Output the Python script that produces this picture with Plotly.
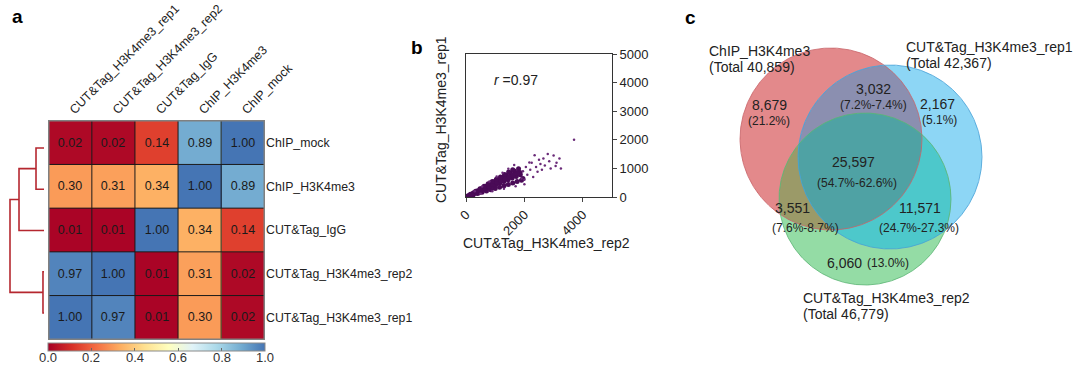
import numpy as np
import plotly.graph_objects as go

W, H = 1080, 365

# ---------------- Panel a: correlation heatmap ----------------
hm_cols = ["CUT&Tag_H3K4me3_rep1", "CUT&Tag_H3K4me3_rep2", "CUT&Tag_IgG", "ChIP_H3K4me3", "ChIP_mock"]
hm_rows = ["ChIP_mock", "ChIP_H3K4me3", "CUT&Tag_IgG", "CUT&Tag_H3K4me3_rep2", "CUT&Tag_H3K4me3_rep1"]
corr_chip_mock = [0.02, 0.02, 0.14, 0.89, 1.00]
corr_chip_h3k4me3 = [0.30, 0.31, 0.34, 1.00, 0.89]
corr_cuttag_igg = [0.01, 0.01, 1.00, 0.34, 0.14]
corr_cuttag_rep2 = [0.97, 1.00, 0.01, 0.31, 0.02]
corr_cuttag_rep1 = [1.00, 0.97, 0.01, 0.30, 0.02]
cbar_ticks = [0.0, 0.2, 0.4, 0.6, 0.8, 1.0]

# dendrogram (rows): merges of leaf/node ids (leaves 0..4 in hm_rows order, new nodes 5..8)
merge_a = [0, 5, 3, 6]
merge_b = [1, 2, 4, 7]
merge_h = [0.235, 0.735, 0.03, 1.0]

# ---------------- Panel b: scatter ----------------
core_rep2 = [100, 250, 400, 550, 700, 850, 1000, 1150, 1300, 1450, 1600, 1750, 1900,
             50, 180, 320, 460, 600, 740, 880, 1020, 1160, 1300, 1440, 1580, 1720, 1860,
             120, 260, 400, 540, 680, 820, 960, 1100, 1240, 1380, 1520, 1660, 1800,
             30, 200, 350, 650, 950, 1250, 1550, 1850,
             80, 220, 360, 500, 640, 780, 920, 1060, 1200, 1340, 1480, 1620, 1760, 1950,
             150, 330, 480, 620, 760, 900, 1040, 1180, 1320, 1460, 1600]
core_rep1 = [30, 75, 120, 165, 210, 255, 300, 345, 390, 440, 490, 540, 590,
             20, 75, 135, 195, 250, 310, 370, 430, 490, 545, 605, 665, 720, 780,
             65, 145, 220, 300, 375, 450, 530, 605, 680, 760, 835, 910, 990,
             10, 60, 170, 330, 450, 580, 720, 860,
             45, 110, 180, 245, 310, 375, 440, 505, 570, 640, 705, 770, 840, 650,
             100, 200, 290, 380, 460, 540, 620, 700, 790, 870, 950]
sparse_rep2 = [300, 550, 800, 1050, 1250, 1450, 1650, 500, 900, 1300, 1700, 2000,
               1950, 2050, 2100, 2200, 2250, 2300, 2400, 2450, 2500, 2550, 2600, 2650,
               2700, 2800, 2850, 2900, 3000, 3100, 3200, 3250, 3700, 2350, 1900, 2000, 2170, 3070]
sparse_rep1 = [200, 370, 545, 715, 850, 990, 1120, 110, 200, 290, 380, 450,
               900, 1050, 780, 950, 1200, 700, 1050, 880, 1300, 1150, 950, 1350,
               1100, 1500, 1250, 1000, 1450, 1200, 1350, 1000, 2000, 1460, 650, 600, 1210, 1080]
scatter_r = 0.97
x_ticks_b = [0, 2000, 4000]
y_ticks_b = [0, 1000, 2000, 3000, 4000, 5000]

# ---------------- Panel c: Venn ----------------
venn_names = ["ChIP_H3K4me3", "CUT&Tag_H3K4me3_rep1", "CUT&Tag_H3K4me3_rep2"]
venn_totals = ["40,859", "42,367", "46,779"]
region_counts = ["8,679", "2,167", "6,060", "3,032", "3,551", "11,571", "25,597"]
region_pcts = ["(21.2%)", "(5.1%)", "(13.0%)", "(7.2%-7.4%)", "(7.6%-8.7%)", "(24.7%-27.3%)", "(54.7%-62.6%)"]


def dx(px):
    return px / W


def dy(py):
    return 1 - py / H


FONT = "Arial, Liberation Sans, sans-serif"
fig = go.Figure()

# RdYlBu-like scale
cscale = [[i / 9, c] for i, c in enumerate(
    ["#a50026", "#d73027", "#f46d43", "#fdae61", "#fee090", "#ffffbf",
     "#e0f3f8", "#abd9e9", "#74add1", "#4575b4"])]

CB_L, CB_LEN = 48, 217
z = [corr_chip_mock, corr_chip_h3k4me3, corr_cuttag_igg, corr_cuttag_rep2, corr_cuttag_rep1]
fig.add_trace(go.Heatmap(
    z=z, x=hm_cols, y=hm_rows, colorscale=cscale, zmin=0, zmax=1,
    texttemplate="%{z:.2f}", textfont=dict(size=12.5, color="#1a1a1a", family=FONT),
    hoverinfo="skip",
    colorbar=dict(orientation="h", x=dx(CB_L), xanchor="left", y=dy(343), yanchor="top",
                  len=CB_LEN, lenmode="pixels", thickness=8, xpad=0, ypad=0,
                  outlinewidth=1, outlinecolor="#8a8a8a",
                  tickvals=cbar_ticks, showticklabels=False,
                  ticks="inside", ticklen=3, tickcolor="#666"),
    xaxis="x", yaxis="y"))

shapes = []
for i in range(1, len(hm_cols)):
    shapes.append(dict(type="line", xref="x", yref="y", x0=i - 0.5, x1=i - 0.5, y0=-0.5, y1=4.5,
                       line=dict(color="#1a1a1a", width=1)))
for i in range(1, len(hm_rows)):
    shapes.append(dict(type="line", xref="x", yref="y", y0=i - 0.5, y1=i - 0.5, x0=-0.5, x1=4.5,
                       line=dict(color="#1a1a1a", width=1)))
shapes.append(dict(type="rect", xref="x", yref="y", x0=-0.5, x1=4.5, y0=-0.5, y1=4.5,
                   line=dict(color="#808080", width=1.5)))

# dendrogram
pos = {i: float(i) for i in range(len(hm_rows))}
hgt = {i: 0.0 for i in range(len(hm_rows))}
dxs, dys = [], []
for k, (a, b, h) in enumerate(zip(merge_a, merge_b, merge_h)):
    nid = len(hm_rows) + k
    dxs += [hgt[a], h, h, hgt[b], None]
    dys += [pos[a], pos[a], pos[b], pos[b], None]
    pos[nid] = (pos[a] + pos[b]) / 2
    hgt[nid] = h
fig.add_trace(go.Scatter(x=dxs, y=dys, mode="lines", line=dict(color="#b5272f", width=1.6),
                         hoverinfo="skip", xaxis="x4", yaxis="y4"))

# scatter
fig.add_trace(go.Scatter(x=core_rep2, y=core_rep1, mode="markers",
                         marker=dict(size=5, color="#4a0b57", line=dict(width=0)),
                         hoverinfo="skip", xaxis="x2", yaxis="y2"))
fig.add_trace(go.Scatter(x=sparse_rep2, y=sparse_rep1, mode="markers",
                         marker=dict(size=2.5, color="#6a2a78", line=dict(width=0)),
                         hoverinfo="skip", xaxis="x2", yaxis="y2"))

# Venn (pixel coordinate system)
circles = [(831, 139, 91), (890, 157, 92), (865, 199, 86)]


def region_polygon(idx):
    t = np.linspace(0, 2 * np.pi, 1440, endpoint=False)
    pts = []
    for i in idx:
        cx, cy, r = circles[i]
        px, py = cx + r * np.cos(t), cy + r * np.sin(t)
        mask = np.ones_like(t, dtype=bool)
        for j in idx:
            if j != i:
                cxj, cyj, rj = circles[j]
                mask &= (px - cxj) ** 2 + (py - cyj) ** 2 <= rj ** 2
        pts.append(np.c_[px[mask], py[mask]])
    P = np.vstack(pts)
    c = P.mean(axis=0)
    P = P[np.argsort(np.arctan2(P[:, 1] - c[1], P[:, 0] - c[0]))]
    P = np.vstack([P, P[:1]])
    return P


region_defs = [((0,), "#e3898b"), ((1,), "#8dd6f5"), ((2,), "#94dca5"),
               ((0, 1), "#8b8fb0"), ((0, 2), "#9b9a68"), ((1, 2), "#4dc8cb"),
               ((0, 1, 2), "#4fa2a4")]
for idx, col in region_defs:
    P = region_polygon(idx)
    fig.add_trace(go.Scatter(x=P[:, 0], y=P[:, 1], mode="lines", fill="toself", fillcolor=col,
                             line=dict(width=0, color=col), hoverinfo="skip",
                             xaxis="x3", yaxis="y3"))
for (cx, cy, r), col in zip(circles, ["rgba(200,100,105,0.8)", "rgba(70,160,215,0.8)",
                                      "rgba(90,180,115,0.8)"]):
    t = np.linspace(0, 2 * np.pi, 721)
    fig.add_trace(go.Scatter(x=cx + r * np.cos(t), y=cy + r * np.sin(t), mode="lines",
                             line=dict(width=1, color=col), hoverinfo="skip",
                             xaxis="x3", yaxis="y3"))

ann = []


def A(text, x, y, size, xref="paper", yref="paper", xanchor="center", yanchor="middle", **kw):
    ann.append(dict(text=text, x=x, y=y, xref=xref, yref=yref, xanchor=xanchor, yanchor=yanchor,
                    showarrow=False, font=dict(size=size, family=FONT, color=kw.pop("color", "#222")),
                    **kw))


# colorbar tick labels
for v in cbar_ticks:
    A(f"{v:.1f}", dx(CB_L + v * CB_LEN), dy(357.5), 13, color="#333")

# panel letters
A("<b>a</b>", dx(17), dy(16), 19, color="#000")
A("<b>b</b>", dx(417), dy(47), 19, color="#000")
A("<b>c</b>", dx(690), dy(17), 19, color="#000")

# scatter annotations
A(f"<i>r</i> ={scatter_r:.2f}", dx(516), dy(80), 14)
A("CUT&Tag_H3K4me3_rep2", dx(546), dy(243), 14)
A("CUT&Tag_H3K4me3_rep1", dx(441), dy(120), 14, textangle=-90)

# venn labels
vx = dict(xref="x3", yref="y3")
A(venn_names[0], 707, 51, 14, xanchor="left", **vx)
A(f"(Total {venn_totals[0]})", 707, 67, 14, xanchor="left", **vx)
A(venn_names[1], 904, 47, 14, xanchor="left", **vx)
A(f"(Total {venn_totals[1]})", 904, 63, 14, xanchor="left", **vx)
A(venn_names[2], 801, 298, 14, xanchor="left", **vx)
A(f"(Total {venn_totals[2]})", 801, 314, 14, xanchor="left", **vx)

num_pos = [(769, 105), (937, 104), (844, 263), (873, 89), (792, 208), (920, 208), (853, 162)]
pct_pos = [(769, 121), (939, 120), (888, 263), (873, 105), (805, 228), (919, 228), (857, 183)]
for cnt, pct, (nx, ny), (px_, py_) in zip(region_counts, region_pcts, num_pos, pct_pos):
    A(cnt, nx, ny, 14, **vx)
    A(pct, px_, py_, 12, **vx)

fig.update_layout(
    width=W, height=H, margin=dict(l=0, r=0, t=0, b=0, autoexpand=False),
    paper_bgcolor="white", plot_bgcolor="white", showlegend=False,
    font=dict(family=FONT, color="#222"),
    shapes=shapes, annotations=ann,
    xaxis=dict(domain=[dx(48), dx(265)], side="top", tickangle=-45, anchor="y", automargin=False,
               tickfont=dict(size=12.5, family=FONT, color="#222"), ticks="",
               showgrid=False, zeroline=False, showline=False),
    yaxis=dict(domain=[dy(340), dy(120)], side="right", autorange="reversed", anchor="x",
               automargin=False,
               tickfont=dict(size=12.3, family=FONT, color="#222"), ticks="",
               showgrid=False, zeroline=False, showline=False),
    xaxis2=dict(domain=[dx(466), dx(612)], range=[0, 5000], anchor="y2", automargin=False,
                tickvals=x_ticks_b, tickangle=-45, ticks="outside", ticklen=4,
                tickfont=dict(size=13, family=FONT, color="#222"),
                showline=True, mirror=True, linecolor="#333", linewidth=1,
                showgrid=False, zeroline=False),
    yaxis2=dict(domain=[dy(197), dy(54)], range=[0, 5000], anchor="x2", side="right",
                automargin=False,
                tickvals=y_ticks_b, ticks="outside", ticklen=4,
                tickfont=dict(size=13, family=FONT, color="#222"),
                showline=True, mirror=True, linecolor="#333", linewidth=1,
                showgrid=False, zeroline=False),
    xaxis3=dict(domain=[dx(690), dx(1080)], range=[690, 1080], anchor="y3", visible=False),
    yaxis3=dict(domain=[dy(340), dy(10)], range=[340, 10], anchor="x3", visible=False),
    xaxis4=dict(domain=[0, dx(48)], range=[44 / 34, -4 / 34], anchor="y4", visible=False),
    yaxis4=dict(domain=[dy(127.4 + 206.2), dy(127.4)], range=[4.5, -0.5], anchor="x4",
                visible=False),
)

fig.write_html("out.html", config={"displayModeBar": False},
               post_script="document.body.style.margin='0';document.body.style.overflow='hidden';")
